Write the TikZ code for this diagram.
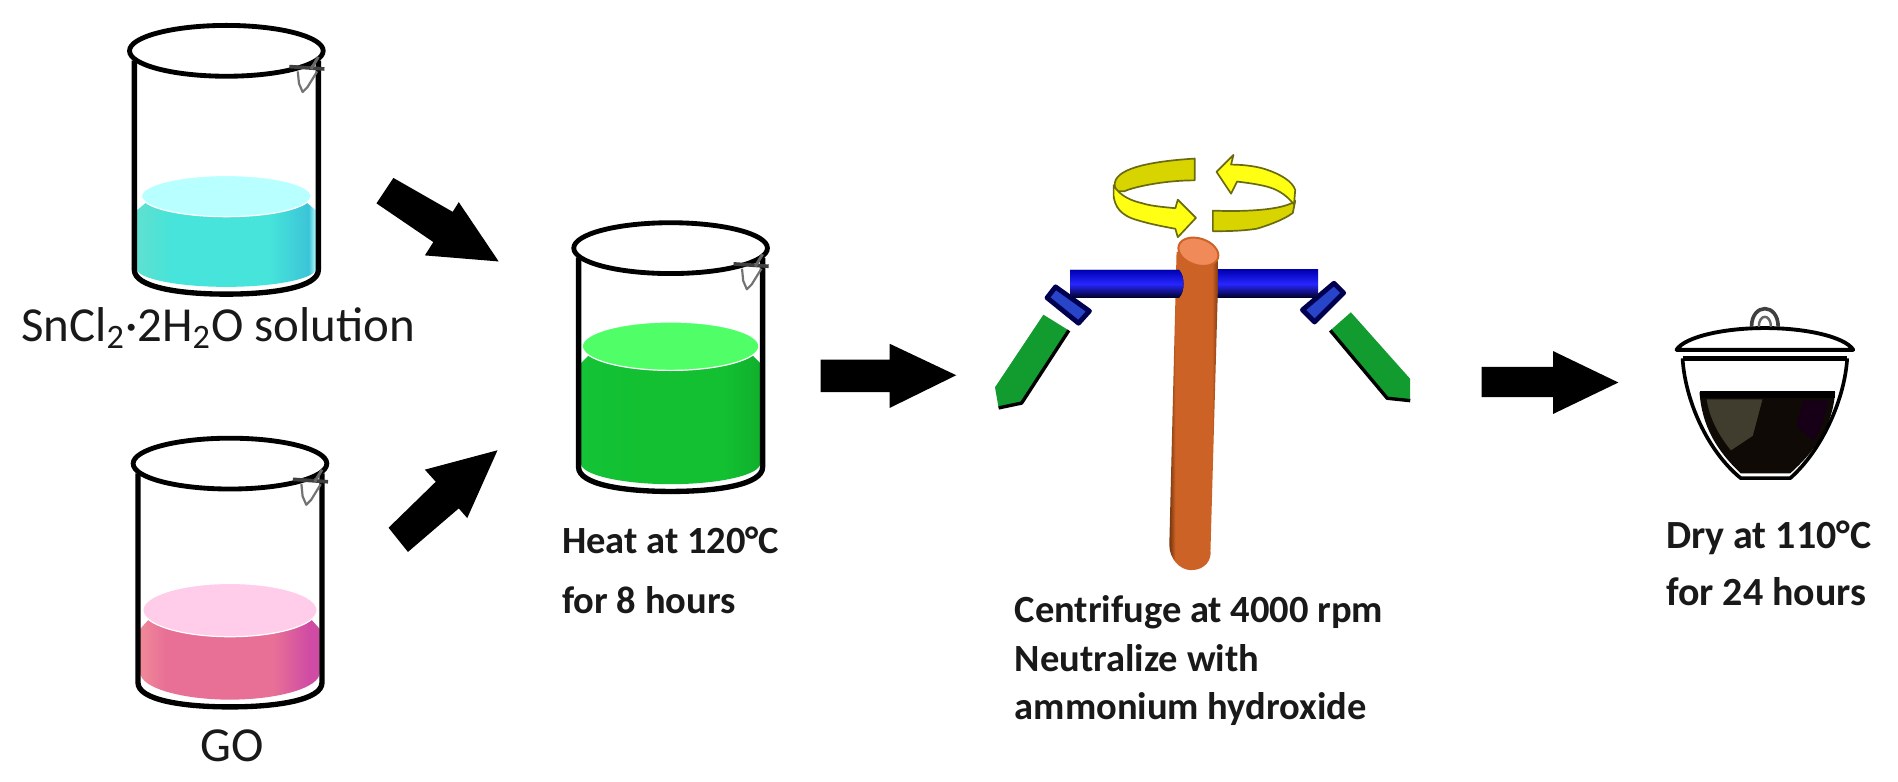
\documentclass[tikz,border=0pt]{standalone}
\usepackage{fontspec}
\setmainfont{Carlito}
\usetikzlibrary{calc}
\definecolor{aqL}{HTML}{5FE0D0}\definecolor{aqM}{HTML}{46E4DA}\definecolor{aqR}{HTML}{3CC4D8}\definecolor{aqT}{HTML}{B8FFFF}
\definecolor{piL}{HTML}{F08898}\definecolor{piM}{HTML}{E87096}\definecolor{piR}{HTML}{D04CA4}\definecolor{piT}{HTML}{FFCCEA}
\definecolor{grL}{HTML}{14C436}\definecolor{grM}{HTML}{12C032}\definecolor{grR}{HTML}{10B02C}\definecolor{grT}{HTML}{50FF68}
\definecolor{rodD}{HTML}{7E3A10}\definecolor{rodM}{HTML}{CC6226}\definecolor{rodT}{HTML}{F08A58}
\definecolor{yelD}{HTML}{D8D400}\definecolor{yelL}{HTML}{FFFF14}\definecolor{yelE}{HTML}{6A6A10}
\definecolor{tubeG}{HTML}{129C30}\definecolor{clipB}{HTML}{2844C8}\definecolor{clipE}{HTML}{000050}
\pgfdeclarehorizontalshading{aqshade}{100bp}{color(0bp)=(aqL); color(25bp)=(aqL); color(35bp)=(aqM); color(62bp)=(aqM); color(73bp)=(aqR); color(75bp)=(aqT); color(100bp)=(aqT)}
\pgfdeclarehorizontalshading{pishade}{100bp}{color(0bp)=(piL); color(25bp)=(piL); color(32bp)=(piM); color(62bp)=(piM); color(72bp)=(piR); color(100bp)=(piR)}
\pgfdeclarehorizontalshading{grshade}{100bp}{color(0bp)=(grL); color(25bp)=(grL); color(40bp)=(grM); color(65bp)=(grM); color(75bp)=(grR); color(100bp)=(grR)}
\pgfdeclarehorizontalshading{rodshade}{100bp}{color(0bp)=(rodD); color(26bp)=(rodD); color(31bp)=(rodM); color(68bp)=(rodM); color(74bp)=(rodD); color(100bp)=(rodD)}
\tikzset{
  blockarrow/.style={fill=black,draw=none},
  rimline/.style={draw=black,line width=2pt},
  labelA/.style={anchor=base west,inner sep=0pt,font=\fontsize{20.2}{24}\selectfont,text=black!90},
  labelB/.style={anchor=base west,inner sep=0pt,font=\fontsize{15.9}{18}\bfseries\selectfont,text=black!90},
  labelC/.style={anchor=base west,inner sep=0pt,font=\fontsize{16.5}{18}\bfseries\selectfont,text=black!90},
  armblue/.style={top color=blue!70!black,bottom color=black!85!blue,middle color=blue!85!white,draw=none},
  clipblue/.style={fill=clipB,draw=clipE,line width=2pt,line join=round},
  tubegreen/.style={fill=tubeG,draw=none},
  tubeedge/.style={draw=black,line width=1.4pt,line join=round},
  bandlight/.style={fill=yelL,draw=yelE,line width=.7pt,line join=round},
  banddark/.style={fill=yelD,draw=yelE,line width=.7pt,line join=round},
}
% #1 cx, #2 rim cy, #3 liquid cy, #4 liquid half width, #5 liquid ry, #6 side end y, #7 liquid bottom y, #8 shading, #9 top colour; body bottom is rim + 201
\newcommand{\drawbeaker}[9]{%
  \shade[shading=#8]
    ({#1-74},{#3+#5*.7}) -- ({#1-60},#3) -- ({#1+60},#3) -- ({#1+74},{#3+#5*.7}) -- ({#1+74},#6)
    .. controls ({#1+74},{#6+.55*(#7-#6)}) and ({#1+40},#7) .. (#1,#7)
    .. controls ({#1-40},#7) and ({#1-74},{#6+.55*(#7-#6)}) .. ({#1-74},#6) -- cycle;
  \fill[#9,draw=white,line width=.5pt] (#1,#3) ellipse [x radius=#4,y radius=#5];
  \draw[rimline,line width=2.2pt,line join=round] ({#1-76},{#2+8}) -- ({#1-76},{#2+181})
    .. controls ({#1-76},{#2+195}) and ({#1-40},{#2+201}) .. (#1,{#2+201})
    .. controls ({#1+40},{#2+201}) and ({#1+76},{#2+195}) .. ({#1+76},{#2+181}) -- ({#1+76},{#2+8});
  \draw[rimline] (#1,#2) ellipse [x radius=80,y radius=21];
  \draw[black!55,line width=.9pt,line join=round] ({#1+59},{#2+17}) -- ({#1+60},{#2+27}) -- ({#1+63},{#2+34}) -- ({#1+67},{#2+30}) -- ({#1+75},{#2+17});
  \draw[black!75,line width=1.5pt] ({#1+52},{#2+13}) -- ({#1+81},{#2+15});
  \draw[black!60,line width=1.2pt] ({#1+70},{#2+15}) -- ({#1+76},{#2+5});
}
\begin{document}
\begin{tikzpicture}[x=0.5pt,y=-0.5pt]
\useasboundingbox (0,0) rectangle (1568,646);
\fill[white] (0,0) rectangle (1568,646);
% beakers
\drawbeaker{187}{42}{162}{70}{17}{222}{237}{aqshade}{aqT}
\drawbeaker{190}{383}{504}{72}{22}{556}{578}{pishade}{piT}
\drawbeaker{554}{205}{286}{73}{20}{383}{400}{grshade}{grT}
% labels
\node[labelA] (sn) at (17,282) {SnCl\textsubscript{2}·2H\textsubscript{2}O solution};
\node[labelA] (go) at (165,629) {GO};
\node[labelB] (heat1) at (464,457) {Heat at 120°C};
\node[labelB] (heat2) at (464,507) {for 8 hours};
\node[labelB] (cen1) at (838,514) {Centrifuge at 4000 rpm};
\node[labelB] (cen2) at (838,555) {Neutralize with};
\node[labelB] (cen3) at (838,594) {ammonium hydroxide};
\node[labelC] (dry1) at (1376,453) {Dry at 110°C};
\node[labelC] (dry2) at (1376,500) {for 24 hours};
% block arrows
\fill[blockarrow] (325,147) -- (374,175) -- (379,167) -- (412,216) -- (351,211) -- (358,200) -- (311,168) -- cycle;
\fill[blockarrow] (411,372) -- (351,388) -- (360,398) -- (321,436) -- (337,456) -- (379,420) -- (386,428) -- cycle;
\fill[blockarrow] (678,297) -- (735,297) -- (735,284) -- (790,310) -- (735,337) -- (735,324) -- (678,324) -- cycle;
\fill[blockarrow] (1224,303) -- (1283,303) -- (1283,290) -- (1337,316) -- (1283,342) -- (1283,328) -- (1224,328) -- cycle;
% centrifuge: tubes and clips
\fill[tubegreen] (862,260) -- (883,273) -- (844,333) -- (825,337) -- (822,320) -- cycle;
\draw[tubeedge] (883,273) -- (844,333) -- (825,337);
\fill[tubegreen] (1099,273) -- (1116,258) -- (1165,313) -- (1165,331) -- (1146,329) -- cycle;
\draw[tubeedge] (1099,273) -- (1146,329) -- (1165,331);
\draw[clipblue] (872,237) -- (865,246) -- (891,267) -- (900,257) -- cycle;
\draw[clipblue] (1102,234) -- (1110,242) -- (1086,266) -- (1076,256) -- cycle;
% arms and rod
\fill[armblue] (1004,223) rectangle (1089,246);
\shade[shading=rodshade]
  (972,208) -- (966,450) .. controls (966,462) and (975,471) .. (984,471)
  .. controls (996,471) and (1001,462) .. (1000,455) -- (1007,208) -- cycle;
\fill[armblue] (884,223) -- (974,223) .. controls (979,228) and (979,241) .. (974,246) -- (884,246) -- cycle;
\fill[rodT,draw=rodM,line width=.8pt,rotate around={-18:(990,208)}] (990,208) ellipse [x radius=17,y radius=11];
% rotation arrows
\fill[banddark] (987,131) .. controls (955,133) and (923,138) .. (921,151) -- (921,158) -- (929,158)
  .. controls (935,155) and (960,149) .. (987,149) -- cycle;
\fill[bandlight] (920,153) -- (920,162) .. controls (921,170) and (925,178) .. (940,182)
  .. controls (950,185) and (960,187) .. (971,189) -- (973,196) -- (988,180) -- (973,165) -- (971,172)
  .. controls (960,171) and (950,170) .. (944,168) .. controls (935,166) and (925,162) .. (920,153) -- cycle;
\fill[banddark] (1002,174) .. controls (1025,175) and (1060,174) .. (1070,166) -- (1068,176)
  .. controls (1060,182) and (1045,187) .. (1038,189) .. controls (1025,191) and (1012,191) .. (1002,191) -- cycle;
\fill[bandlight] (1005,142) -- (1019,128) -- (1017,136) .. controls (1030,136) and (1040,138) .. (1046,140)
  .. controls (1058,144) and (1068,150) .. (1070,157) -- (1069,169)
  .. controls (1062,160) and (1054,156) .. (1046,154) .. controls (1038,152) and (1030,151) .. (1022,150) -- (1017,160) -- cycle;
% crucible
\fill[black!92!brown] (1404,324) -- (1516,324)
  .. controls (1514,352) and (1500,372) .. (1479,391) -- (1438,391) .. controls (1418,372) and (1406,352) .. (1404,324) -- cycle;
\fill[olive!28!black] (1410,330) -- (1456,330) -- (1448,360) -- (1430,372) .. controls (1420,360) and (1412,345) .. (1410,330) -- cycle;
\fill[violet!18!black] (1490,331) -- (1510,331) .. controls (1508,345) and (1504,356) .. (1498,364) -- (1484,352) -- cycle;
\fill[black] (1404,323) rectangle (1516,329);
\draw[black,line width=1.5pt,line join=round] (1390,296) .. controls (1392,330) and (1410,372) .. (1438,395) -- (1479,395)
  .. controls (1505,372) and (1524,330) .. (1526,296);
\draw[black,line width=2.2pt] (1390,296) -- (1526,296);
\draw[black,line width=1.6pt,fill=white,line join=round] (1385,289) .. controls (1392,278) and (1425,271) .. (1458,271)
  .. controls (1491,271) and (1524,278) .. (1531,289) -- cycle;
\draw[black!75,line width=1.5pt] (1447,270) .. controls (1447,250) and (1469,250) .. (1469,270);
\draw[black!60,line width=1pt] (1453,270) .. controls (1453,259) and (1463,259) .. (1463,270);
\end{tikzpicture}
\end{document}
